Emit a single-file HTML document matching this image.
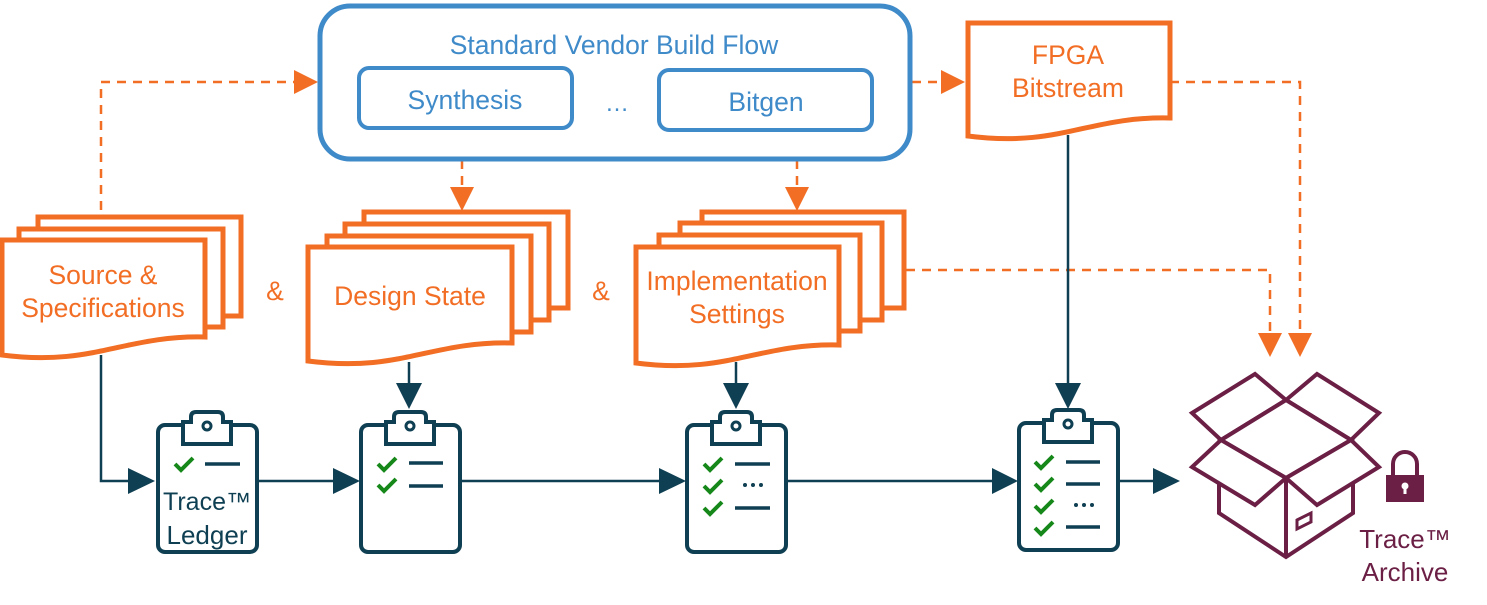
<!DOCTYPE html>
<html><head><meta charset="utf-8"><style>
html,body{margin:0;padding:0;background:#fff;}
svg{display:block;}
text{font-family:"Liberation Sans",sans-serif;}
</style></head><body>
<svg width="1487" height="605" viewBox="0 0 1487 605" xmlns="http://www.w3.org/2000/svg">
<defs>
<g id="clip">
  <rect x="0" y="0" width="99" height="127" rx="7" fill="#fff" stroke="#0E3F52" stroke-width="4"/>
  <path d="M25,19 V-3 H33 V-8 Q33,-13 38,-13 H60 Q65,-13 65,-8 V-3 H73 V19 Z" fill="#fff" stroke="#0E3F52" stroke-width="4"/>
  <circle cx="49" cy="1" r="4" fill="none" stroke="#0E3F52" stroke-width="3"/>
</g>
<polyline id="chk" points="-10,0 -4,6 8,-6" fill="none" stroke="#16881A" stroke-width="4"/>
</defs>

<g stroke="#F26E25" stroke-width="2.5" stroke-dasharray="9,7" fill="none">
  <path d="M101,210 V82 H298"/>
  <path d="M912,82 H944"/>
  <path d="M1170,82 H1300 V333"/>
  <path d="M906,270 H1270 V333"/>
  <path d="M462,160 V188"/>
  <path d="M797,160 V188"/>
</g>
<g fill="#F26E25">
  <polygon points="294,70 318,82 294,94"/>
  <polygon points="941,70 965,82 941,94"/>
  <polygon points="1288,333 1312,333 1300,357"/>
  <polygon points="1258,333 1282,333 1270,357"/>
  <polygon points="450,187 474,187 462,211"/>
  <polygon points="785,187 809,187 797,211"/>
</g>

<g stroke="#0E3F52" stroke-width="2.5" fill="none">
  <path d="M101,355 V481 H132"/>
  <path d="M256,481 H336"/>
  <path d="M459,481 H662"/>
  <path d="M786,481 H996"/>
  <path d="M1117,481 H1156"/>
  <path d="M409,362 V385"/>
  <path d="M736,362 V385"/>
  <path d="M1068,135 V385"/>
</g>
<g fill="#0E3F52">
  <polygon points="128,468 155,481 128,494"/>
  <polygon points="333,468 360,481 333,494"/>
  <polygon points="659,468 686,481 659,494"/>
  <polygon points="992,468 1018,481 992,494"/>
  <polygon points="1153,468 1180,481 1153,494"/>
  <polygon points="396,383 422,383 409,409"/>
  <polygon points="723,383 749,383 736,409"/>
  <polygon points="1055,383 1081,383 1068,409"/>
</g>

<rect x="320" y="6" width="590" height="153" rx="30" fill="#fff" stroke="#3F8AC9" stroke-width="5"/>
<text x="614" y="54" font-size="26.5" fill="#3F8AC9" text-anchor="middle">Standard Vendor Build Flow</text>
<rect x="359" y="68" width="213" height="60" rx="10" fill="#fff" stroke="#3F8AC9" stroke-width="4"/>
<text x="465" y="109" font-size="26.5" fill="#3F8AC9" text-anchor="middle">Synthesis</text>
<text x="617" y="111" font-size="24" fill="#3F8AC9" text-anchor="middle">…</text>
<rect x="659" y="70" width="213" height="60" rx="10" fill="#fff" stroke="#3F8AC9" stroke-width="4"/>
<text x="766" y="111" font-size="26.5" fill="#3F8AC9" text-anchor="middle">Bitgen</text>

<g fill="#fff" stroke="#F26E25" stroke-width="5">
  <path d="M968,23 H1170 V118 C1089,116 1059,148 968,136 Z"/>
  <rect x="38" y="217" width="203" height="99"/>
  <rect x="19" y="229" width="204" height="98"/>
  <path d="M2,240 H205 V337 C124,335 93,367 2,355 Z"/>
  <rect x="364" y="212" width="204" height="96"/>
  <rect x="345" y="224" width="204" height="96"/>
  <rect x="327" y="236" width="204" height="96"/>
  <path d="M308,247 H512 V343 C430,341 400,373 308,361 Z"/>
  <rect x="702" y="212" width="202" height="96"/>
  <rect x="680" y="223" width="202" height="97"/>
  <rect x="659" y="235" width="201" height="96"/>
  <path d="M636,247 H839 V345 C758,343 727,375 636,363 Z"/>
</g>
<g font-size="26.5" fill="#F26E25" text-anchor="middle">
  <text x="1068" y="64">FPGA</text>
  <text x="1068" y="97">Bitstream</text>
  <text x="103" y="284">Source &amp;</text>
  <text x="103" y="317">Specifications</text>
  <text x="275" y="300">&amp;</text>
  <text x="410" y="305">Design State</text>
  <text x="601" y="300">&amp;</text>
  <text x="737" y="290">Implementation</text>
  <text x="737" y="323">Settings</text>
</g>

<use href="#clip" x="158" y="425"/>
<use href="#clip" x="361" y="425"/>
<use href="#clip" x="687" y="425"/>
<use href="#clip" x="1019" y="423"/>
<g fill="none" stroke="#0E3F52" stroke-width="3.5">
  <path d="M205,464 H240"/>
  <path d="M409,463 H443 M409,486 H443"/>
  <path d="M735,464 H770 M735,508 H770"/>
  <path d="M1066,462 H1100 M1066,484 H1100 M1066,527 H1100"/>
</g>
<use href="#chk" x="185" y="464"/>
<use href="#chk" x="388" y="464"/>
<use href="#chk" x="388" y="485"/>
<use href="#chk" x="714" y="464"/>
<use href="#chk" x="714" y="486"/>
<use href="#chk" x="714" y="508"/>
<use href="#chk" x="1045" y="462"/>
<use href="#chk" x="1045" y="484"/>
<use href="#chk" x="1045" y="506"/>
<use href="#chk" x="1045" y="528"/>
<g fill="#0E3F52">
  <circle cx="745" cy="485" r="2"/><circle cx="753" cy="485" r="2"/><circle cx="761" cy="485" r="2"/>
  <circle cx="1076" cy="505" r="2"/><circle cx="1084" cy="505" r="2"/><circle cx="1092" cy="505" r="2"/>
</g>
<text x="207" y="510" font-size="25" fill="#0E3F52" text-anchor="middle">Trace™</text>
<text x="207" y="544" font-size="26" fill="#0E3F52" text-anchor="middle">Ledger</text>

<g fill="#fff" stroke="#6B1F45" stroke-width="4" stroke-linejoin="miter">
  <path d="M1219,483 V513 L1286,557 L1353,513 V483"/>
  <path d="M1286,478 V557"/>
  <path d="M1192,413 L1255,374 L1286,400 L1221,440 Z"/>
  <path d="M1286,400 L1317,374 L1379,413 L1351,440 Z"/>
  <path d="M1221,440 L1286,400 L1351,440 L1286,478 Z"/>
  <path d="M1221,440 L1192,467 L1255,505 L1286,478 Z"/>
  <path d="M1286,478 L1317,505 L1379,467 L1351,440 Z"/>
  <path d="M1297,520 L1311,513 V522 L1297,529 Z" stroke-width="3"/>
</g>
<path d="M1393,476 V464 A12,12 0 0 1 1417,464 V476" fill="none" stroke="#6B1F45" stroke-width="4"/>
<rect x="1386" y="475" width="38" height="27" fill="#6B1F45"/>
<circle cx="1405" cy="486" r="3.5" fill="#fff"/>
<rect x="1403.5" y="486" width="3" height="8" fill="#fff"/>
<text x="1405" y="548" font-size="26" fill="#6B1F45" text-anchor="middle">Trace™</text>
<text x="1405" y="581" font-size="26" fill="#6B1F45" text-anchor="middle">Archive</text>
</svg>
</body></html>
